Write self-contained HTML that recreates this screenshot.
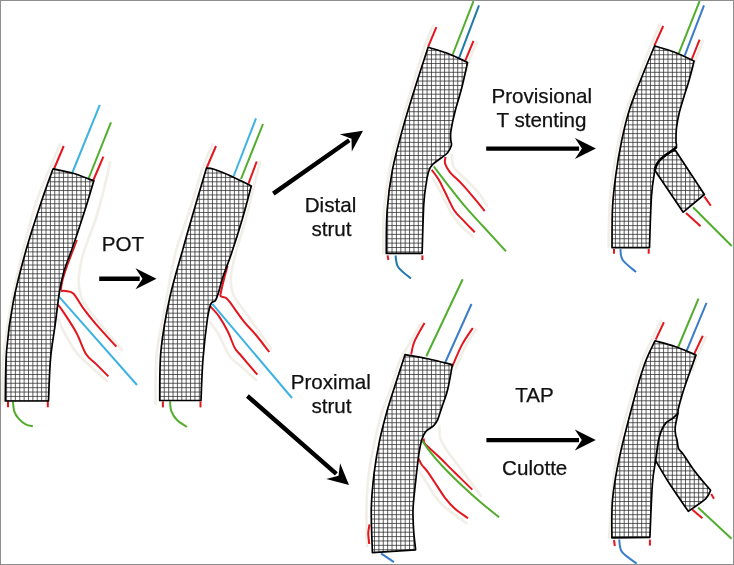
<!DOCTYPE html>
<html><head><meta charset="utf-8"><style>
html,body{margin:0;padding:0;background:#fff;}
svg{display:block;}
text{font-family:"Liberation Sans",sans-serif;fill:#111;stroke:#111;stroke-width:0.25px;}
svg{will-change:transform;}
</style></head><body>
<svg width="734" height="565" viewBox="0 0 734 565">
<defs>
<path id="grid" d="M-300.00,-300V900M-295.62,-300V900M-291.24,-300V900M-286.86,-300V900M-282.48,-300V900M-278.10,-300V900M-273.72,-300V900M-269.34,-300V900M-264.96,-300V900M-260.58,-300V900M-256.20,-300V900M-251.82,-300V900M-247.44,-300V900M-243.06,-300V900M-238.68,-300V900M-234.30,-300V900M-229.92,-300V900M-225.54,-300V900M-221.16,-300V900M-216.78,-300V900M-212.40,-300V900M-208.02,-300V900M-203.64,-300V900M-199.26,-300V900M-194.88,-300V900M-190.50,-300V900M-186.12,-300V900M-181.74,-300V900M-177.36,-300V900M-172.98,-300V900M-168.60,-300V900M-164.22,-300V900M-159.84,-300V900M-155.46,-300V900M-151.08,-300V900M-146.70,-300V900M-142.32,-300V900M-137.94,-300V900M-133.56,-300V900M-129.18,-300V900M-124.80,-300V900M-120.42,-300V900M-116.04,-300V900M-111.66,-300V900M-107.28,-300V900M-102.90,-300V900M-98.52,-300V900M-94.14,-300V900M-89.76,-300V900M-85.38,-300V900M-81.00,-300V900M-76.62,-300V900M-72.24,-300V900M-67.86,-300V900M-63.48,-300V900M-59.10,-300V900M-54.72,-300V900M-50.34,-300V900M-45.96,-300V900M-41.58,-300V900M-37.20,-300V900M-32.82,-300V900M-28.44,-300V900M-24.06,-300V900M-19.68,-300V900M-15.30,-300V900M-10.92,-300V900M-6.54,-300V900M-2.16,-300V900M2.22,-300V900M6.60,-300V900M10.98,-300V900M15.36,-300V900M19.74,-300V900M24.12,-300V900M28.50,-300V900M32.88,-300V900M37.26,-300V900M41.64,-300V900M46.02,-300V900M50.40,-300V900M54.78,-300V900M59.16,-300V900M63.54,-300V900M67.92,-300V900M72.30,-300V900M76.68,-300V900M81.06,-300V900M85.44,-300V900M89.82,-300V900M94.20,-300V900M98.58,-300V900M102.96,-300V900M107.34,-300V900M111.72,-300V900M116.10,-300V900M120.48,-300V900M124.86,-300V900M129.24,-300V900M133.62,-300V900M138.00,-300V900M142.38,-300V900M146.76,-300V900M151.14,-300V900M155.52,-300V900M159.90,-300V900M164.28,-300V900M168.66,-300V900M173.04,-300V900M177.42,-300V900M181.80,-300V900M186.18,-300V900M190.56,-300V900M194.94,-300V900M199.32,-300V900M203.70,-300V900M208.08,-300V900M212.46,-300V900M216.84,-300V900M221.22,-300V900M225.60,-300V900M229.98,-300V900M234.36,-300V900M238.74,-300V900M243.12,-300V900M247.50,-300V900M251.88,-300V900M256.26,-300V900M260.64,-300V900M265.02,-300V900M269.40,-300V900M273.78,-300V900M278.16,-300V900M282.54,-300V900M286.92,-300V900M291.30,-300V900M295.68,-300V900M300.06,-300V900M304.44,-300V900M308.82,-300V900M313.20,-300V900M317.58,-300V900M321.96,-300V900M326.34,-300V900M330.72,-300V900M335.10,-300V900M339.48,-300V900M343.86,-300V900M348.24,-300V900M352.62,-300V900M357.00,-300V900M361.38,-300V900M365.76,-300V900M370.14,-300V900M374.52,-300V900M378.90,-300V900M383.28,-300V900M387.66,-300V900M392.04,-300V900M396.42,-300V900M400.80,-300V900M405.18,-300V900M409.56,-300V900M413.94,-300V900M418.32,-300V900M422.70,-300V900M427.08,-300V900M431.46,-300V900M435.84,-300V900M440.22,-300V900M444.60,-300V900M448.98,-300V900M453.36,-300V900M457.74,-300V900M462.12,-300V900M466.50,-300V900M470.88,-300V900M475.26,-300V900M479.64,-300V900M484.02,-300V900M488.40,-300V900M492.78,-300V900M497.16,-300V900M501.54,-300V900M505.92,-300V900M510.30,-300V900M514.68,-300V900M519.06,-300V900M523.44,-300V900M527.82,-300V900M532.20,-300V900M536.58,-300V900M540.96,-300V900M545.34,-300V900M549.72,-300V900M554.10,-300V900M558.48,-300V900M562.86,-300V900M567.24,-300V900M571.62,-300V900M576.00,-300V900M580.38,-300V900M584.76,-300V900M589.14,-300V900M593.52,-300V900M597.90,-300V900M602.28,-300V900M606.66,-300V900M611.04,-300V900M615.42,-300V900M619.80,-300V900M624.18,-300V900M628.56,-300V900M632.94,-300V900M637.32,-300V900M641.70,-300V900M646.08,-300V900M650.46,-300V900M654.84,-300V900M659.22,-300V900M663.60,-300V900M667.98,-300V900M672.36,-300V900M676.74,-300V900M681.12,-300V900M685.50,-300V900M689.88,-300V900M694.26,-300V900M698.64,-300V900M703.02,-300V900M707.40,-300V900M711.78,-300V900M716.16,-300V900M720.54,-300V900M724.92,-300V900M729.30,-300V900M733.68,-300V900M738.06,-300V900M742.44,-300V900M746.82,-300V900M751.20,-300V900M755.58,-300V900M759.96,-300V900M764.34,-300V900M768.72,-300V900M773.10,-300V900M777.48,-300V900M781.86,-300V900M786.24,-300V900M790.62,-300V900M795.00,-300V900M799.38,-300V900M803.76,-300V900M808.14,-300V900M812.52,-300V900M816.90,-300V900M821.28,-300V900M825.66,-300V900M830.04,-300V900M834.42,-300V900M838.80,-300V900M843.18,-300V900M847.56,-300V900M851.94,-300V900M856.32,-300V900M860.70,-300V900M865.08,-300V900M869.46,-300V900M873.84,-300V900M878.22,-300V900M882.60,-300V900M886.98,-300V900M891.36,-300V900M895.74,-300V900M900.12,-300V900M904.50,-300V900M908.88,-300V900M913.26,-300V900M917.64,-300V900M922.02,-300V900M926.40,-300V900M930.78,-300V900M935.16,-300V900M939.54,-300V900M943.92,-300V900M948.30,-300V900M952.68,-300V900M957.06,-300V900M961.44,-300V900M965.82,-300V900M970.20,-300V900M974.58,-300V900M978.96,-300V900M983.34,-300V900M987.72,-300V900M992.10,-300V900M996.48,-300V900M1000.86,-300V900M1005.24,-300V900M1009.62,-300V900M1014.00,-300V900M1018.38,-300V900M1022.76,-300V900M1027.14,-300V900M1031.52,-300V900M1035.90,-300V900M1040.28,-300V900M1044.66,-300V900M1049.04,-300V900M1053.42,-300V900M1057.80,-300V900M1062.18,-300V900M1066.56,-300V900M1070.94,-300V900M1075.32,-300V900M1079.70,-300V900M1084.08,-300V900M1088.46,-300V900M1092.84,-300V900M1097.22,-300V900M-300,-300.00H1100M-300,-295.62H1100M-300,-291.24H1100M-300,-286.86H1100M-300,-282.48H1100M-300,-278.10H1100M-300,-273.72H1100M-300,-269.34H1100M-300,-264.96H1100M-300,-260.58H1100M-300,-256.20H1100M-300,-251.82H1100M-300,-247.44H1100M-300,-243.06H1100M-300,-238.68H1100M-300,-234.30H1100M-300,-229.92H1100M-300,-225.54H1100M-300,-221.16H1100M-300,-216.78H1100M-300,-212.40H1100M-300,-208.02H1100M-300,-203.64H1100M-300,-199.26H1100M-300,-194.88H1100M-300,-190.50H1100M-300,-186.12H1100M-300,-181.74H1100M-300,-177.36H1100M-300,-172.98H1100M-300,-168.60H1100M-300,-164.22H1100M-300,-159.84H1100M-300,-155.46H1100M-300,-151.08H1100M-300,-146.70H1100M-300,-142.32H1100M-300,-137.94H1100M-300,-133.56H1100M-300,-129.18H1100M-300,-124.80H1100M-300,-120.42H1100M-300,-116.04H1100M-300,-111.66H1100M-300,-107.28H1100M-300,-102.90H1100M-300,-98.52H1100M-300,-94.14H1100M-300,-89.76H1100M-300,-85.38H1100M-300,-81.00H1100M-300,-76.62H1100M-300,-72.24H1100M-300,-67.86H1100M-300,-63.48H1100M-300,-59.10H1100M-300,-54.72H1100M-300,-50.34H1100M-300,-45.96H1100M-300,-41.58H1100M-300,-37.20H1100M-300,-32.82H1100M-300,-28.44H1100M-300,-24.06H1100M-300,-19.68H1100M-300,-15.30H1100M-300,-10.92H1100M-300,-6.54H1100M-300,-2.16H1100M-300,2.22H1100M-300,6.60H1100M-300,10.98H1100M-300,15.36H1100M-300,19.74H1100M-300,24.12H1100M-300,28.50H1100M-300,32.88H1100M-300,37.26H1100M-300,41.64H1100M-300,46.02H1100M-300,50.40H1100M-300,54.78H1100M-300,59.16H1100M-300,63.54H1100M-300,67.92H1100M-300,72.30H1100M-300,76.68H1100M-300,81.06H1100M-300,85.44H1100M-300,89.82H1100M-300,94.20H1100M-300,98.58H1100M-300,102.96H1100M-300,107.34H1100M-300,111.72H1100M-300,116.10H1100M-300,120.48H1100M-300,124.86H1100M-300,129.24H1100M-300,133.62H1100M-300,138.00H1100M-300,142.38H1100M-300,146.76H1100M-300,151.14H1100M-300,155.52H1100M-300,159.90H1100M-300,164.28H1100M-300,168.66H1100M-300,173.04H1100M-300,177.42H1100M-300,181.80H1100M-300,186.18H1100M-300,190.56H1100M-300,194.94H1100M-300,199.32H1100M-300,203.70H1100M-300,208.08H1100M-300,212.46H1100M-300,216.84H1100M-300,221.22H1100M-300,225.60H1100M-300,229.98H1100M-300,234.36H1100M-300,238.74H1100M-300,243.12H1100M-300,247.50H1100M-300,251.88H1100M-300,256.26H1100M-300,260.64H1100M-300,265.02H1100M-300,269.40H1100M-300,273.78H1100M-300,278.16H1100M-300,282.54H1100M-300,286.92H1100M-300,291.30H1100M-300,295.68H1100M-300,300.06H1100M-300,304.44H1100M-300,308.82H1100M-300,313.20H1100M-300,317.58H1100M-300,321.96H1100M-300,326.34H1100M-300,330.72H1100M-300,335.10H1100M-300,339.48H1100M-300,343.86H1100M-300,348.24H1100M-300,352.62H1100M-300,357.00H1100M-300,361.38H1100M-300,365.76H1100M-300,370.14H1100M-300,374.52H1100M-300,378.90H1100M-300,383.28H1100M-300,387.66H1100M-300,392.04H1100M-300,396.42H1100M-300,400.80H1100M-300,405.18H1100M-300,409.56H1100M-300,413.94H1100M-300,418.32H1100M-300,422.70H1100M-300,427.08H1100M-300,431.46H1100M-300,435.84H1100M-300,440.22H1100M-300,444.60H1100M-300,448.98H1100M-300,453.36H1100M-300,457.74H1100M-300,462.12H1100M-300,466.50H1100M-300,470.88H1100M-300,475.26H1100M-300,479.64H1100M-300,484.02H1100M-300,488.40H1100M-300,492.78H1100M-300,497.16H1100M-300,501.54H1100M-300,505.92H1100M-300,510.30H1100M-300,514.68H1100M-300,519.06H1100M-300,523.44H1100M-300,527.82H1100M-300,532.20H1100M-300,536.58H1100M-300,540.96H1100M-300,545.34H1100M-300,549.72H1100M-300,554.10H1100M-300,558.48H1100M-300,562.86H1100M-300,567.24H1100M-300,571.62H1100M-300,576.00H1100M-300,580.38H1100M-300,584.76H1100M-300,589.14H1100M-300,593.52H1100M-300,597.90H1100M-300,602.28H1100M-300,606.66H1100M-300,611.04H1100M-300,615.42H1100M-300,619.80H1100M-300,624.18H1100M-300,628.56H1100M-300,632.94H1100M-300,637.32H1100M-300,641.70H1100M-300,646.08H1100M-300,650.46H1100M-300,654.84H1100M-300,659.22H1100M-300,663.60H1100M-300,667.98H1100M-300,672.36H1100M-300,676.74H1100M-300,681.12H1100M-300,685.50H1100M-300,689.88H1100M-300,694.26H1100M-300,698.64H1100M-300,703.02H1100M-300,707.40H1100M-300,711.78H1100M-300,716.16H1100M-300,720.54H1100M-300,724.92H1100M-300,729.30H1100M-300,733.68H1100M-300,738.06H1100M-300,742.44H1100M-300,746.82H1100M-300,751.20H1100M-300,755.58H1100M-300,759.96H1100M-300,764.34H1100M-300,768.72H1100M-300,773.10H1100M-300,777.48H1100M-300,781.86H1100M-300,786.24H1100M-300,790.62H1100M-300,795.00H1100M-300,799.38H1100M-300,803.76H1100M-300,808.14H1100M-300,812.52H1100M-300,816.90H1100M-300,821.28H1100M-300,825.66H1100M-300,830.04H1100M-300,834.42H1100M-300,838.80H1100M-300,843.18H1100M-300,847.56H1100M-300,851.94H1100M-300,856.32H1100M-300,860.70H1100M-300,865.08H1100M-300,869.46H1100M-300,873.84H1100M-300,878.22H1100M-300,882.60H1100M-300,886.98H1100M-300,891.36H1100M-300,895.74H1100" stroke="#2a2a2a" stroke-width="0.75" fill="none"/>
</defs>
<rect x="0" y="0" width="734" height="565" fill="#fff"/>
<path d="M60.0,144.4 C58.4,148.2 54.0,158.6 50.3,167.4 C46.6,176.2 41.7,186.4 38.0,197.0 C34.3,207.6 31.1,219.7 28.0,231.0 C24.9,242.3 22.5,251.8 19.5,265.0 C16.5,278.2 12.7,294.8 10.0,310.0 C7.3,325.2 4.8,340.3 3.5,356.0 C2.2,371.7 2.7,396.0 2.5,404.0" stroke="#f1efe8" stroke-width="2.7" fill="none" stroke-linecap="round"/>
<path d="M110.0,162.0 C109.2,165.8 107.2,176.2 105.0,185.0 C102.8,193.8 99.8,205.8 97.0,215.0 C94.2,224.2 90.5,232.8 88.0,240.0 C85.5,247.2 83.5,251.7 82.0,258.0 C80.5,264.3 79.2,272.7 78.8,278.0 C78.4,283.3 79.0,286.5 79.5,290.0 C80.0,293.5 80.4,295.7 82.0,299.0 C83.6,302.3 85.0,304.7 89.0,310.0 C93.0,315.3 100.5,324.3 106.0,331.0 C111.5,337.7 119.3,346.8 122.0,350.0" stroke="#f1efe8" stroke-width="2.7" fill="none" stroke-linecap="round"/>
<path d="M56.0,314.0 C57.2,316.7 59.7,323.7 63.0,330.0 C66.3,336.3 71.8,346.3 76.0,352.0 C80.2,357.7 82.8,359.2 88.0,364.0 C93.2,368.8 103.8,378.2 107.0,381.0" stroke="#f1efe8" stroke-width="2.7" fill="none" stroke-linecap="round"/>
<path d="M54.0,169.0 L63.7,146.0" stroke="#e3161d" stroke-width="2.0" fill="none" stroke-linecap="butt" stroke-linejoin="round"/>
<path d="M72.0,173.5 L99.8,104.8" stroke="#3cb3e4" stroke-width="2.0" fill="none" stroke-linecap="butt" stroke-linejoin="round"/>
<path d="M88.0,180.0 L111.0,122.3" stroke="#52ad2d" stroke-width="2.0" fill="none" stroke-linecap="butt" stroke-linejoin="round"/>
<path d="M93.0,181.0 L103.4,156.6" stroke="#e3161d" stroke-width="2.0" fill="none" stroke-linecap="butt" stroke-linejoin="round"/>
<path d="M77.0,240.0 C76.5,241.3 75.8,243.3 74.0,248.0 C72.2,252.7 68.4,262.5 66.5,268.0 C64.6,273.5 63.4,277.3 62.5,281.0 C61.6,284.7 61.2,288.5 61.0,290.0" stroke="#e3161d" stroke-width="1.6" fill="none" stroke-linecap="butt" stroke-linejoin="round"/>
<path d="M61.0,291.0 C61.7,291.0 63.4,290.6 65.4,291.0 C67.5,291.4 70.4,290.7 73.3,293.5 C76.2,296.3 79.3,302.8 83.0,307.8 C86.7,312.9 90.1,317.3 95.7,323.8 C101.3,330.3 113.0,342.9 116.4,346.7" stroke="#e3161d" stroke-width="2.0" fill="none" stroke-linecap="butt" stroke-linejoin="round"/>
<path d="M59.0,296.7 L137.0,385.0" stroke="#3cb3e4" stroke-width="2.0" fill="none" stroke-linecap="butt" stroke-linejoin="round"/>
<path d="M58.0,304.6 C59.0,305.9 60.7,307.9 63.8,312.6 C66.9,317.3 72.8,326.1 76.5,333.0 C80.2,339.9 82.8,348.9 86.0,354.0 C89.2,359.1 92.0,359.9 95.7,363.6 C99.4,367.3 106.3,374.3 108.4,376.4" stroke="#e3161d" stroke-width="2.0" fill="none" stroke-linecap="butt" stroke-linejoin="round"/>
<path d="M8.0,401.0 L8.0,407.3" stroke="#e3161d" stroke-width="2.0" fill="none" stroke-linecap="butt" stroke-linejoin="round"/>
<path d="M47.8,401.0 L47.8,407.3" stroke="#e3161d" stroke-width="2.0" fill="none" stroke-linecap="butt" stroke-linejoin="round"/>
<path d="M12.9,401.4 C13.1,403.1 13.4,408.5 14.3,411.4 C15.2,414.3 16.7,416.5 18.6,418.6 C20.5,420.8 23.3,423.0 25.7,424.3 C28.1,425.6 31.7,426.0 32.9,426.3" stroke="#52ad2d" stroke-width="2.0" fill="none" stroke-linecap="butt" stroke-linejoin="round"/>
<clipPath id="c1"><path d="M53.1,168.8 C56.4,169.6 66.2,171.3 73.0,173.3 C79.8,175.3 90.3,179.6 93.8,180.8 C92.2,186.2 87.5,202.1 84.0,213.0 C80.5,223.9 76.3,236.7 73.0,246.3 C69.7,255.9 66.4,263.2 64.2,270.6 C62.0,278.0 61.2,281.6 59.7,290.5 C58.2,299.4 56.8,312.3 55.3,323.7 C53.8,335.1 51.6,346.2 50.5,359.1 C49.4,372.0 48.8,394.0 48.5,401.0 L5.3,401.0 C5.5,392.7 5.3,366.9 6.6,350.3 C7.9,333.7 10.0,318.6 13.3,301.6 C16.6,284.6 21.7,265.5 26.5,248.5 C31.3,231.5 37.6,213.1 42.0,199.8 C46.4,186.5 51.2,174.0 53.1,168.8 Z"/></clipPath>
<g clip-path="url(#c1)"><path d="M53.1,168.8 C56.4,169.6 66.2,171.3 73.0,173.3 C79.8,175.3 90.3,179.6 93.8,180.8 C92.2,186.2 87.5,202.1 84.0,213.0 C80.5,223.9 76.3,236.7 73.0,246.3 C69.7,255.9 66.4,263.2 64.2,270.6 C62.0,278.0 61.2,281.6 59.7,290.5 C58.2,299.4 56.8,312.3 55.3,323.7 C53.8,335.1 51.6,346.2 50.5,359.1 C49.4,372.0 48.8,394.0 48.5,401.0 L5.3,401.0 C5.5,392.7 5.3,366.9 6.6,350.3 C7.9,333.7 10.0,318.6 13.3,301.6 C16.6,284.6 21.7,265.5 26.5,248.5 C31.3,231.5 37.6,213.1 42.0,199.8 C46.4,186.5 51.2,174.0 53.1,168.8 Z" fill="#fff"/><g><use href="#grid"/></g></g>
<path d="M53.1,168.8 C56.4,169.6 66.2,171.3 73.0,173.3 C79.8,175.3 90.3,179.6 93.8,180.8 C92.2,186.2 87.5,202.1 84.0,213.0 C80.5,223.9 76.3,236.7 73.0,246.3 C69.7,255.9 66.4,263.2 64.2,270.6 C62.0,278.0 61.2,281.6 59.7,290.5 C58.2,299.4 56.8,312.3 55.3,323.7 C53.8,335.1 51.6,346.2 50.5,359.1 C49.4,372.0 48.8,394.0 48.5,401.0 L5.3,401.0 C5.5,392.7 5.3,366.9 6.6,350.3 C7.9,333.7 10.0,318.6 13.3,301.6 C16.6,284.6 21.7,265.5 26.5,248.5 C31.3,231.5 37.6,213.1 42.0,199.8 C46.4,186.5 51.2,174.0 53.1,168.8 Z" fill="none" stroke="#000" stroke-width="1.7" stroke-linejoin="round"/>
<path d="M99.2,276.6 L139.7,276.6 L139.7,281.0 L99.2,281.0Z M156.5,278.8 L135.5,268.3 L142.5,278.8 L135.5,289.3Z" fill="#000"/>
<text x="123.0" y="251.2" font-size="20.6" text-anchor="middle">POT</text>
<path d="M212.5,144.5 C210.9,148.2 206.2,157.8 203.0,167.0 C199.8,176.2 196.3,189.5 193.0,200.0 C189.7,210.5 186.0,220.8 183.0,230.0 C180.0,239.2 178.3,240.5 175.0,255.0 C171.7,269.5 166.1,300.2 163.0,317.0 C159.9,333.8 157.8,341.5 156.5,356.0 C155.2,370.5 155.7,396.0 155.5,404.0" stroke="#f1efe8" stroke-width="2.7" fill="none" stroke-linecap="round"/>
<path d="M260.0,162.0 C258.8,166.7 255.5,180.0 253.0,190.0 C250.5,200.0 247.8,211.7 245.0,222.0 C242.2,232.3 238.3,243.2 236.0,252.0 C233.7,260.8 231.8,269.0 231.0,275.0 C230.2,281.0 230.8,284.2 231.5,288.0 C232.2,291.8 232.2,293.3 235.0,298.0 C237.8,302.7 242.0,307.5 248.0,316.0 C254.0,324.5 267.2,343.5 271.0,349.0" stroke="#f1efe8" stroke-width="2.7" fill="none" stroke-linecap="round"/>
<path d="M209.6,321.6 C211.2,323.8 215.7,329.3 219.0,335.0 C222.3,340.7 225.8,350.7 229.5,356.0 C233.2,361.3 237.0,362.7 241.4,366.7 C245.8,370.7 253.6,377.8 256.0,380.0" stroke="#f1efe8" stroke-width="2.7" fill="none" stroke-linecap="round"/>
<path d="M206.6,168.0 L216.0,146.0" stroke="#e3161d" stroke-width="2.0" fill="none" stroke-linecap="butt" stroke-linejoin="round"/>
<path d="M233.5,176.5 L256.0,118.4" stroke="#3cb3e4" stroke-width="2.0" fill="none" stroke-linecap="butt" stroke-linejoin="round"/>
<path d="M241.0,179.0 L263.0,124.0" stroke="#52ad2d" stroke-width="2.0" fill="none" stroke-linecap="butt" stroke-linejoin="round"/>
<path d="M248.5,183.6 L256.7,161.5" stroke="#e3161d" stroke-width="2.0" fill="none" stroke-linecap="butt" stroke-linejoin="round"/>
<path d="M227.5,266.0 C226.8,268.5 224.7,276.3 223.5,281.0 C222.3,285.7 221.0,291.8 220.5,294.0" stroke="#e3161d" stroke-width="2.0" fill="none" stroke-linecap="butt" stroke-linejoin="round"/>
<path d="M220.2,294.0 C220.3,294.4 220.1,295.8 221.0,296.4 C221.9,297.0 224.1,296.8 225.5,297.7 C226.9,298.6 226.4,297.7 229.5,301.7 C232.6,305.7 239.6,316.1 244.0,321.6 C248.4,327.2 251.8,329.9 256.0,335.0 C260.2,340.1 267.1,349.2 269.3,352.0" stroke="#e3161d" stroke-width="2.0" fill="none" stroke-linecap="butt" stroke-linejoin="round"/>
<path d="M212.3,303.8 L292.0,398.0" stroke="#3cb3e4" stroke-width="2.0" fill="none" stroke-linecap="butt" stroke-linejoin="round"/>
<path d="M209.6,305.7 C211.2,307.5 215.9,311.9 219.0,316.3 C222.1,320.7 225.6,327.0 228.2,332.3 C230.8,337.6 232.6,344.1 234.8,348.0 C237.0,351.9 237.7,351.6 241.4,356.0 C245.2,360.4 254.7,371.6 257.3,374.7" stroke="#e3161d" stroke-width="2.0" fill="none" stroke-linecap="butt" stroke-linejoin="round"/>
<path d="M162.9,401.4 L162.9,407.4" stroke="#e3161d" stroke-width="2.0" fill="none" stroke-linecap="butt" stroke-linejoin="round"/>
<path d="M200.5,401.4 L200.5,407.4" stroke="#e3161d" stroke-width="2.0" fill="none" stroke-linecap="butt" stroke-linejoin="round"/>
<path d="M170.0,401.4 C170.2,403.1 170.2,408.3 171.4,411.4 C172.6,414.5 174.4,417.4 177.0,420.0 C179.6,422.6 185.3,425.8 187.0,427.0" stroke="#52ad2d" stroke-width="2.0" fill="none" stroke-linecap="butt" stroke-linejoin="round"/>
<clipPath id="c2"><path d="M206.5,168.0 C207.8,168.2 209.6,167.8 214.0,169.3 C218.4,170.8 226.8,174.2 233.0,177.0 C239.2,179.8 248.2,184.5 251.3,186.0 C249.9,191.2 246.1,206.3 242.8,217.4 C239.5,228.5 235.0,242.9 231.7,252.8 C228.4,262.7 225.1,270.4 222.9,277.0 C220.7,283.6 219.8,288.6 218.5,292.5 C217.2,296.4 216.7,298.6 215.4,300.5 C214.2,302.4 212.3,300.5 211.0,303.6 C209.7,306.7 208.7,309.8 207.4,319.0 C206.1,328.2 204.1,345.2 203.0,358.8 C201.9,372.4 201.3,393.6 201.0,400.5 L159.7,400.5 C159.9,391.7 159.3,367.2 161.0,350.0 C162.7,332.8 166.2,313.9 169.9,297.0 C173.6,280.1 178.7,264.2 183.1,248.4 C187.5,232.6 192.5,215.4 196.4,202.0 C200.3,188.6 204.8,173.7 206.5,168.0 Z"/></clipPath>
<g clip-path="url(#c2)"><path d="M206.5,168.0 C207.8,168.2 209.6,167.8 214.0,169.3 C218.4,170.8 226.8,174.2 233.0,177.0 C239.2,179.8 248.2,184.5 251.3,186.0 C249.9,191.2 246.1,206.3 242.8,217.4 C239.5,228.5 235.0,242.9 231.7,252.8 C228.4,262.7 225.1,270.4 222.9,277.0 C220.7,283.6 219.8,288.6 218.5,292.5 C217.2,296.4 216.7,298.6 215.4,300.5 C214.2,302.4 212.3,300.5 211.0,303.6 C209.7,306.7 208.7,309.8 207.4,319.0 C206.1,328.2 204.1,345.2 203.0,358.8 C201.9,372.4 201.3,393.6 201.0,400.5 L159.7,400.5 C159.9,391.7 159.3,367.2 161.0,350.0 C162.7,332.8 166.2,313.9 169.9,297.0 C173.6,280.1 178.7,264.2 183.1,248.4 C187.5,232.6 192.5,215.4 196.4,202.0 C200.3,188.6 204.8,173.7 206.5,168.0 Z" fill="#fff"/><g><use href="#grid"/></g></g>
<path d="M206.5,168.0 C207.8,168.2 209.6,167.8 214.0,169.3 C218.4,170.8 226.8,174.2 233.0,177.0 C239.2,179.8 248.2,184.5 251.3,186.0 C249.9,191.2 246.1,206.3 242.8,217.4 C239.5,228.5 235.0,242.9 231.7,252.8 C228.4,262.7 225.1,270.4 222.9,277.0 C220.7,283.6 219.8,288.6 218.5,292.5 C217.2,296.4 216.7,298.6 215.4,300.5 C214.2,302.4 212.3,300.5 211.0,303.6 C209.7,306.7 208.7,309.8 207.4,319.0 C206.1,328.2 204.1,345.2 203.0,358.8 C201.9,372.4 201.3,393.6 201.0,400.5 L159.7,400.5 C159.9,391.7 159.3,367.2 161.0,350.0 C162.7,332.8 166.2,313.9 169.9,297.0 C173.6,280.1 178.7,264.2 183.1,248.4 C187.5,232.6 192.5,215.4 196.4,202.0 C200.3,188.6 204.8,173.7 206.5,168.0 Z" fill="none" stroke="#000" stroke-width="1.7" stroke-linejoin="round"/>
<path d="M272.0,191.8 L348.0,138.5 L350.5,142.1 L274.6,195.4Z M363.0,130.7 L339.8,134.2 L351.5,138.7 L351.8,151.4Z" fill="#000"/>
<text x="330.5" y="212.2" font-size="20.6" text-anchor="middle">Distal</text>
<text x="331.5" y="236.0" font-size="20.6" text-anchor="middle">strut</text>
<path d="M248.8,394.3 L337.8,472.3 L334.9,475.6 L246.0,397.7Z M349.0,485.0 L340.1,463.3 L338.5,475.8 L326.3,479.1Z" fill="#000"/>
<text x="330.8" y="388.5" font-size="20.6" text-anchor="middle">Proximal</text>
<text x="331.5" y="412.8" font-size="20.6" text-anchor="middle">strut</text>
<path d="M433.2,25.8 C431.8,29.0 428.6,34.7 425.0,45.2 C421.4,55.7 415.8,74.8 411.5,88.8 C407.2,102.8 403.2,115.9 399.5,129.4 C395.8,142.9 392.0,156.4 389.4,170.0 C386.8,183.6 385.0,196.9 384.0,210.7 C383.0,224.5 383.4,245.9 383.3,253.0" stroke="#f1efe8" stroke-width="2.7" fill="none" stroke-linecap="round"/>
<path d="M476.7,42.2 C475.6,44.8 471.8,53.0 470.0,58.0 C468.2,63.0 466.7,69.7 466.0,72.0" stroke="#f1efe8" stroke-width="2.7" fill="none" stroke-linecap="round"/>
<path d="M451.8,154.9 C452.2,157.0 451.5,163.4 454.0,167.6 C456.5,171.8 462.5,175.9 466.7,180.3 C470.9,184.7 476.0,189.8 479.4,194.0 C482.8,198.2 485.6,203.8 486.9,205.8" stroke="#f1efe8" stroke-width="2.7" fill="none" stroke-linecap="round"/>
<path d="M432.7,178.2 C433.9,180.3 437.4,185.7 440.2,191.0 C443.0,196.3 446.7,204.7 449.7,210.0 C452.7,215.3 454.3,218.4 458.2,222.8 C462.1,227.2 470.5,234.3 473.0,236.6" stroke="#f1efe8" stroke-width="2.7" fill="none" stroke-linecap="round"/>
<path d="M428.2,46.6 L436.4,27.2" stroke="#e3161d" stroke-width="2.0" fill="none" stroke-linecap="butt" stroke-linejoin="round"/>
<path d="M452.5,55.0 L473.5,1.2" stroke="#52ad2d" stroke-width="2.0" fill="none" stroke-linecap="butt" stroke-linejoin="round"/>
<path d="M459.0,58.2 L479.0,5.4" stroke="#1f7aa8" stroke-width="2.0" fill="none" stroke-linecap="butt" stroke-linejoin="round"/>
<path d="M465.3,60.7 L473.5,40.9" stroke="#e3161d" stroke-width="2.0" fill="none" stroke-linecap="butt" stroke-linejoin="round"/>
<path d="M445.5,157.0 C445.4,158.1 444.3,160.8 445.0,163.3 C445.7,165.8 446.8,168.2 449.7,171.8 C452.6,175.4 458.2,180.0 462.5,184.6 C466.8,189.2 471.5,195.0 475.2,199.4 C478.9,203.8 483.1,209.2 484.7,211.1" stroke="#e3161d" stroke-width="2.0" fill="none" stroke-linecap="butt" stroke-linejoin="round"/>
<path d="M433.8,166.5 C436.1,169.5 442.5,178.0 447.6,184.6 C452.7,191.2 458.6,198.7 464.6,205.8 C470.6,212.9 476.8,219.4 483.7,227.0 C490.6,234.6 502.3,247.3 506.0,251.4" stroke="#52ad2d" stroke-width="2.0" fill="none" stroke-linecap="butt" stroke-linejoin="round"/>
<path d="M431.7,169.7 C432.9,171.5 436.8,176.4 439.1,180.3 C441.4,184.2 443.0,188.1 445.5,193.0 C448.0,197.9 451.2,205.6 454.0,210.0 C456.8,214.4 459.0,215.9 462.5,219.6 C466.0,223.3 472.8,230.2 474.8,232.3" stroke="#e3161d" stroke-width="2.0" fill="none" stroke-linecap="butt" stroke-linejoin="round"/>
<path d="M387.6,255.4 L388.4,260.0" stroke="#e3161d" stroke-width="2.0" fill="none" stroke-linecap="butt" stroke-linejoin="round"/>
<path d="M422.4,255.4 L422.4,260.0" stroke="#e3161d" stroke-width="2.0" fill="none" stroke-linecap="butt" stroke-linejoin="round"/>
<path d="M395.5,255.4 C396.0,257.4 395.7,263.4 398.3,267.3 C400.9,271.2 408.9,276.7 411.0,278.6" stroke="#1f7aa8" stroke-width="2.0" fill="none" stroke-linecap="butt" stroke-linejoin="round"/>
<clipPath id="c3"><path d="M428.1,47.3 C431.4,48.3 441.4,51.0 448.0,53.5 C454.6,56.0 464.3,60.9 467.6,62.4 C466.6,66.8 463.7,80.3 461.5,88.8 C459.3,97.3 456.4,106.0 454.6,113.2 C452.8,120.4 451.4,127.5 450.8,132.0 C450.2,136.5 450.7,137.8 450.8,140.0 C450.9,142.2 451.9,143.2 451.4,145.3 C450.9,147.4 449.3,150.6 447.6,152.7 C445.9,154.8 443.7,156.1 441.2,158.0 C438.7,159.9 434.8,162.3 432.7,164.4 C430.6,166.5 429.9,167.8 428.9,170.8 C427.8,173.8 427.2,177.0 426.4,182.5 C425.5,188.0 424.5,191.9 423.8,203.7 C423.1,215.5 422.4,245.1 422.1,253.4 L386.3,253.4 C386.4,246.3 386.1,224.6 387.1,210.7 C388.1,196.8 389.8,183.6 392.4,170.0 C395.0,156.4 398.8,142.9 402.5,129.4 C406.2,115.9 410.4,102.5 414.7,88.8 C419.0,75.1 425.9,54.2 428.1,47.3 Z"/></clipPath>
<g clip-path="url(#c3)"><path d="M428.1,47.3 C431.4,48.3 441.4,51.0 448.0,53.5 C454.6,56.0 464.3,60.9 467.6,62.4 C466.6,66.8 463.7,80.3 461.5,88.8 C459.3,97.3 456.4,106.0 454.6,113.2 C452.8,120.4 451.4,127.5 450.8,132.0 C450.2,136.5 450.7,137.8 450.8,140.0 C450.9,142.2 451.9,143.2 451.4,145.3 C450.9,147.4 449.3,150.6 447.6,152.7 C445.9,154.8 443.7,156.1 441.2,158.0 C438.7,159.9 434.8,162.3 432.7,164.4 C430.6,166.5 429.9,167.8 428.9,170.8 C427.8,173.8 427.2,177.0 426.4,182.5 C425.5,188.0 424.5,191.9 423.8,203.7 C423.1,215.5 422.4,245.1 422.1,253.4 L386.3,253.4 C386.4,246.3 386.1,224.6 387.1,210.7 C388.1,196.8 389.8,183.6 392.4,170.0 C395.0,156.4 398.8,142.9 402.5,129.4 C406.2,115.9 410.4,102.5 414.7,88.8 C419.0,75.1 425.9,54.2 428.1,47.3 Z" fill="#fff"/><g><use href="#grid"/></g></g>
<path d="M428.1,47.3 C431.4,48.3 441.4,51.0 448.0,53.5 C454.6,56.0 464.3,60.9 467.6,62.4 C466.6,66.8 463.7,80.3 461.5,88.8 C459.3,97.3 456.4,106.0 454.6,113.2 C452.8,120.4 451.4,127.5 450.8,132.0 C450.2,136.5 450.7,137.8 450.8,140.0 C450.9,142.2 451.9,143.2 451.4,145.3 C450.9,147.4 449.3,150.6 447.6,152.7 C445.9,154.8 443.7,156.1 441.2,158.0 C438.7,159.9 434.8,162.3 432.7,164.4 C430.6,166.5 429.9,167.8 428.9,170.8 C427.8,173.8 427.2,177.0 426.4,182.5 C425.5,188.0 424.5,191.9 423.8,203.7 C423.1,215.5 422.4,245.1 422.1,253.4 L386.3,253.4 C386.4,246.3 386.1,224.6 387.1,210.7 C388.1,196.8 389.8,183.6 392.4,170.0 C395.0,156.4 398.8,142.9 402.5,129.4 C406.2,115.9 410.4,102.5 414.7,88.8 C419.0,75.1 425.9,54.2 428.1,47.3 Z" fill="none" stroke="#000" stroke-width="1.7" stroke-linejoin="round"/>
<path d="M486.2,146.4 L579.1,146.4 L579.1,150.8 L486.2,150.8Z M595.9,148.6 L574.9,138.1 L581.9,148.6 L574.9,159.1Z" fill="#000"/>
<text x="541.8" y="103.4" font-size="20.6" text-anchor="middle">Provisional</text>
<text x="541.5" y="127.2" font-size="20.6" text-anchor="middle">T stenting</text>
<path d="M660.0,24.6 C658.5,27.8 655.0,34.8 651.3,43.9 C647.6,53.0 642.2,68.0 638.0,79.0 C633.8,90.0 629.5,99.8 626.3,110.2 C623.0,120.6 620.8,130.4 618.5,141.5 C616.2,152.6 614.1,165.5 612.6,176.6 C611.1,187.7 610.1,196.1 609.5,207.8 C608.9,219.5 608.8,240.3 608.7,246.8" stroke="#f1efe8" stroke-width="2.7" fill="none" stroke-linecap="round"/>
<path d="M702.8,41.0 C701.5,44.3 697.0,55.3 695.0,61.0 C693.0,66.7 691.7,72.7 691.0,75.0" stroke="#f1efe8" stroke-width="2.7" fill="none" stroke-linecap="round"/>
<path d="M654.5,45.3 L663.2,26.0" stroke="#e3161d" stroke-width="2.0" fill="none" stroke-linecap="butt" stroke-linejoin="round"/>
<path d="M678.8,53.3 L699.6,1.2" stroke="#52ad2d" stroke-width="2.0" fill="none" stroke-linecap="butt" stroke-linejoin="round"/>
<path d="M684.7,55.7 L704.0,5.4" stroke="#3a7cc9" stroke-width="2.0" fill="none" stroke-linecap="butt" stroke-linejoin="round"/>
<path d="M691.7,59.5 L699.6,39.6" stroke="#e3161d" stroke-width="2.0" fill="none" stroke-linecap="butt" stroke-linejoin="round"/>
<path d="M704.4,196.6 L710.8,205.8" stroke="#e3161d" stroke-width="2.0" fill="none" stroke-linecap="butt" stroke-linejoin="round"/>
<path d="M686.0,213.0 L700.6,226.2" stroke="#e3161d" stroke-width="2.0" fill="none" stroke-linecap="butt" stroke-linejoin="round"/>
<path d="M693.0,207.3 L731.7,246.0" stroke="#52ad2d" stroke-width="2.0" fill="none" stroke-linecap="butt" stroke-linejoin="round"/>
<path d="M614.0,249.0 L614.0,253.7" stroke="#e3161d" stroke-width="2.0" fill="none" stroke-linecap="butt" stroke-linejoin="round"/>
<path d="M648.7,249.0 L648.7,253.7" stroke="#e3161d" stroke-width="2.0" fill="none" stroke-linecap="butt" stroke-linejoin="round"/>
<path d="M620.4,249.0 C620.8,250.8 620.1,256.2 622.7,260.0 C625.3,263.8 633.8,270.0 636.0,272.0" stroke="#3a7cc9" stroke-width="2.0" fill="none" stroke-linecap="butt" stroke-linejoin="round"/>
<clipPath id="c4"><path d="M654.6,45.9 C657.8,46.9 667.4,49.5 674.0,52.0 C680.6,54.5 690.8,59.5 694.1,61.0 C693.2,64.4 690.6,75.0 688.8,81.2 C687.0,87.4 685.1,92.9 683.5,98.2 C681.9,103.5 680.4,108.0 679.2,113.0 C678.0,118.0 677.0,123.3 676.5,127.9 C676.0,132.5 676.0,137.8 676.0,140.6 C676.0,143.4 676.4,144.2 676.5,144.9 C676.4,145.3 676.9,146.4 676.0,147.5 C675.1,148.6 672.9,150.1 671.0,151.5 C669.1,152.9 666.4,154.5 664.5,156.0 C662.6,157.5 660.8,159.0 659.5,160.5 C658.2,162.0 657.3,163.4 656.5,165.0 C655.7,166.6 655.1,169.4 654.8,170.3 C654.2,174.6 652.4,183.1 651.5,196.0 C650.6,208.9 649.8,239.0 649.5,247.6 L612.0,247.6 C612.1,241.0 611.9,219.6 612.5,207.8 C613.1,196.0 614.1,187.7 615.6,176.6 C617.1,165.5 619.2,152.6 621.5,141.5 C623.8,130.4 626.0,120.6 629.3,110.2 C632.5,99.8 636.8,89.7 641.0,79.0 C645.2,68.3 652.3,51.4 654.6,45.9 Z"/></clipPath>
<g clip-path="url(#c4)"><path d="M654.6,45.9 C657.8,46.9 667.4,49.5 674.0,52.0 C680.6,54.5 690.8,59.5 694.1,61.0 C693.2,64.4 690.6,75.0 688.8,81.2 C687.0,87.4 685.1,92.9 683.5,98.2 C681.9,103.5 680.4,108.0 679.2,113.0 C678.0,118.0 677.0,123.3 676.5,127.9 C676.0,132.5 676.0,137.8 676.0,140.6 C676.0,143.4 676.4,144.2 676.5,144.9 C676.4,145.3 676.9,146.4 676.0,147.5 C675.1,148.6 672.9,150.1 671.0,151.5 C669.1,152.9 666.4,154.5 664.5,156.0 C662.6,157.5 660.8,159.0 659.5,160.5 C658.2,162.0 657.3,163.4 656.5,165.0 C655.7,166.6 655.1,169.4 654.8,170.3 C654.2,174.6 652.4,183.1 651.5,196.0 C650.6,208.9 649.8,239.0 649.5,247.6 L612.0,247.6 C612.1,241.0 611.9,219.6 612.5,207.8 C613.1,196.0 614.1,187.7 615.6,176.6 C617.1,165.5 619.2,152.6 621.5,141.5 C623.8,130.4 626.0,120.6 629.3,110.2 C632.5,99.8 636.8,89.7 641.0,79.0 C645.2,68.3 652.3,51.4 654.6,45.9 Z" fill="#fff"/><g><use href="#grid"/></g></g>
<path d="M654.6,45.9 C657.8,46.9 667.4,49.5 674.0,52.0 C680.6,54.5 690.8,59.5 694.1,61.0 C693.2,64.4 690.6,75.0 688.8,81.2 C687.0,87.4 685.1,92.9 683.5,98.2 C681.9,103.5 680.4,108.0 679.2,113.0 C678.0,118.0 677.0,123.3 676.5,127.9 C676.0,132.5 676.0,137.8 676.0,140.6 C676.0,143.4 676.4,144.2 676.5,144.9 C676.4,145.3 676.9,146.4 676.0,147.5 C675.1,148.6 672.9,150.1 671.0,151.5 C669.1,152.9 666.4,154.5 664.5,156.0 C662.6,157.5 660.8,159.0 659.5,160.5 C658.2,162.0 657.3,163.4 656.5,165.0 C655.7,166.6 655.1,169.4 654.8,170.3 C654.2,174.6 652.4,183.1 651.5,196.0 C650.6,208.9 649.8,239.0 649.5,247.6 L612.0,247.6 C612.1,241.0 611.9,219.6 612.5,207.8 C613.1,196.0 614.1,187.7 615.6,176.6 C617.1,165.5 619.2,152.6 621.5,141.5 C623.8,130.4 626.0,120.6 629.3,110.2 C632.5,99.8 636.8,89.7 641.0,79.0 C645.2,68.3 652.3,51.4 654.6,45.9 Z" fill="none" stroke="#000" stroke-width="1.7" stroke-linejoin="round"/>
<clipPath id="c5"><path d="M675.5,150.5 L704.4,194.5 L683.2,212.2 L654.8,170.3 C655.1,169.4 655.7,166.6 656.5,165.0 C657.3,163.4 658.2,162.0 659.5,160.5 C660.8,159.0 662.6,157.5 664.5,156.0 C666.4,154.5 669.2,152.4 671.0,151.5 C672.8,150.6 674.8,150.7 675.5,150.5 Z"/></clipPath>
<g clip-path="url(#c5)"><path d="M675.5,150.5 L704.4,194.5 L683.2,212.2 L654.8,170.3 C655.1,169.4 655.7,166.6 656.5,165.0 C657.3,163.4 658.2,162.0 659.5,160.5 C660.8,159.0 662.6,157.5 664.5,156.0 C666.4,154.5 669.2,152.4 671.0,151.5 C672.8,150.6 674.8,150.7 675.5,150.5 Z" fill="#fff"/><g><use href="#grid"/></g></g>
<path d="M675.5,150.5 L704.4,194.5 L683.2,212.2 L654.8,170.3 C655.1,169.4 655.7,166.6 656.5,165.0 C657.3,163.4 658.2,162.0 659.5,160.5 C660.8,159.0 662.6,157.5 664.5,156.0 C666.4,154.5 669.2,152.4 671.0,151.5 C672.8,150.6 674.8,150.7 675.5,150.5 Z" fill="none" stroke="#000" stroke-width="1.7" stroke-linejoin="round"/>
<path d="M676.0,147.5 C675.2,148.2 672.9,150.1 671.0,151.5 C669.1,152.9 666.4,154.5 664.5,156.0 C662.6,157.5 660.8,159.0 659.5,160.5 C658.2,162.0 657.3,163.4 656.5,165.0 C655.7,166.6 655.1,169.4 654.8,170.3" stroke="#000" stroke-width="2.6" fill="none" stroke-linecap="round"/>
<path d="M420.0,325.0 C418.3,328.0 413.3,337.2 410.0,343.0 C406.7,348.8 403.2,352.5 400.0,360.0 C396.8,367.5 394.0,379.3 391.0,388.0 C388.0,396.7 384.7,403.3 382.0,412.0 C379.3,420.7 377.2,430.0 375.0,440.0 C372.8,450.0 370.4,460.7 369.0,472.0 C367.6,483.3 366.8,495.7 366.5,508.0 C366.2,520.3 366.9,539.7 367.0,546.0" stroke="#f1efe8" stroke-width="2.7" fill="none" stroke-linecap="round"/>
<path d="M476.0,329.5 C474.2,332.2 468.9,339.5 465.5,346.0 C462.1,352.5 457.2,364.8 455.5,368.5" stroke="#f1efe8" stroke-width="2.7" fill="none" stroke-linecap="round"/>
<path d="M439.2,425.8 C439.4,427.8 439.1,433.6 440.2,437.5 C441.3,441.4 441.6,442.7 446.0,449.2 C450.4,455.7 460.6,468.6 466.4,476.4 C472.2,484.2 478.6,492.6 481.0,495.9" stroke="#f1efe8" stroke-width="2.7" fill="none" stroke-linecap="round"/>
<path d="M419.3,470.6 C420.7,472.9 424.2,479.0 427.5,484.2 C430.8,489.4 435.0,496.8 439.2,501.7 C443.4,506.6 448.3,509.8 452.8,513.4 C457.3,517.0 464.1,521.5 466.4,523.1" stroke="#f1efe8" stroke-width="2.7" fill="none" stroke-linecap="round"/>
<path d="M411.2,354.5 C411.7,352.4 412.2,346.9 414.4,341.7 C416.6,336.4 422.8,326.1 424.5,323.0" stroke="#e3161d" stroke-width="2.0" fill="none" stroke-linecap="butt" stroke-linejoin="round"/>
<path d="M426.3,356.3 L462.7,279.3" stroke="#52ad2d" stroke-width="2.0" fill="none" stroke-linecap="butt" stroke-linejoin="round"/>
<path d="M445.0,363.0 L471.5,304.0" stroke="#3a7cc9" stroke-width="2.0" fill="none" stroke-linecap="butt" stroke-linejoin="round"/>
<path d="M452.0,367.0 C453.7,363.2 458.7,350.9 462.2,344.4 C465.7,337.9 471.0,330.7 472.8,328.0" stroke="#e3161d" stroke-width="2.0" fill="none" stroke-linecap="butt" stroke-linejoin="round"/>
<path d="M423.6,438.5 C423.8,439.3 423.6,441.7 424.6,443.3 C425.6,444.9 427.1,445.9 429.5,448.2 C431.9,450.5 435.0,452.9 439.2,457.0 C443.4,461.1 449.2,467.1 454.7,472.5 C460.2,477.9 469.4,486.8 472.3,489.6" stroke="#e3161d" stroke-width="2.0" fill="none" stroke-linecap="butt" stroke-linejoin="round"/>
<path d="M422.0,440.4 C423.2,442.2 426.0,446.7 429.5,451.1 C433.0,455.5 437.8,461.2 443.0,466.7 C448.2,472.2 454.4,478.4 460.6,484.2 C466.8,490.0 473.6,496.2 480.0,501.7 C486.4,507.2 495.9,514.7 499.1,517.3" stroke="#52ad2d" stroke-width="2.0" fill="none" stroke-linecap="butt" stroke-linejoin="round"/>
<path d="M418.2,458.0 C418.8,459.1 420.1,462.4 421.7,464.7 C423.2,467.0 424.9,468.0 427.5,471.6 C430.1,475.2 434.3,481.7 437.2,486.1 C440.1,490.5 442.1,494.1 445.0,497.8 C447.9,501.5 450.9,505.1 454.7,508.5 C458.5,511.9 465.8,516.6 468.0,518.2" stroke="#e3161d" stroke-width="2.0" fill="none" stroke-linecap="butt" stroke-linejoin="round"/>
<path d="M369.5,524.4 C369.3,525.8 368.4,529.7 368.3,533.0 C368.2,536.3 369.1,542.2 369.2,544.0" stroke="#e3161d" stroke-width="2.0" fill="none" stroke-linecap="butt" stroke-linejoin="round"/>
<path d="M381.0,553.4 L394.0,562.2" stroke="#3a7cc9" stroke-width="2.0" fill="none" stroke-linecap="butt" stroke-linejoin="round"/>
<clipPath id="c6"><path d="M405.0,354.7 C409.0,355.4 421.1,357.3 429.0,359.0 C436.9,360.7 448.5,363.8 452.4,364.7 C451.6,368.9 449.4,382.6 447.6,389.8 C445.8,397.0 443.4,402.7 441.7,407.7 C440.0,412.7 439.0,416.7 437.7,419.7 C436.4,422.7 435.7,423.7 433.7,425.7 C431.7,427.7 427.7,429.3 425.7,431.6 C423.7,433.9 422.8,436.7 421.8,439.6 C420.8,442.5 420.3,446.0 419.7,449.2 C419.1,452.4 419.0,452.4 418.2,458.9 C417.4,465.4 415.8,479.6 414.9,488.1 C414.0,496.6 413.2,503.0 413.0,510.0 C412.8,517.0 413.2,523.4 413.6,530.0 C414.0,536.6 415.3,546.5 415.6,549.8 L372.4,552.6 C372.2,545.2 371.0,521.8 371.3,508.5 C371.6,495.2 372.8,484.3 374.1,473.1 C375.5,461.9 377.3,451.3 379.4,441.3 C381.5,431.3 383.9,422.4 386.5,413.0 C389.1,403.6 392.2,394.4 395.3,384.7 C398.4,375.0 403.4,359.7 405.0,354.7 Z"/></clipPath>
<g clip-path="url(#c6)"><path d="M405.0,354.7 C409.0,355.4 421.1,357.3 429.0,359.0 C436.9,360.7 448.5,363.8 452.4,364.7 C451.6,368.9 449.4,382.6 447.6,389.8 C445.8,397.0 443.4,402.7 441.7,407.7 C440.0,412.7 439.0,416.7 437.7,419.7 C436.4,422.7 435.7,423.7 433.7,425.7 C431.7,427.7 427.7,429.3 425.7,431.6 C423.7,433.9 422.8,436.7 421.8,439.6 C420.8,442.5 420.3,446.0 419.7,449.2 C419.1,452.4 419.0,452.4 418.2,458.9 C417.4,465.4 415.8,479.6 414.9,488.1 C414.0,496.6 413.2,503.0 413.0,510.0 C412.8,517.0 413.2,523.4 413.6,530.0 C414.0,536.6 415.3,546.5 415.6,549.8 L372.4,552.6 C372.2,545.2 371.0,521.8 371.3,508.5 C371.6,495.2 372.8,484.3 374.1,473.1 C375.5,461.9 377.3,451.3 379.4,441.3 C381.5,431.3 383.9,422.4 386.5,413.0 C389.1,403.6 392.2,394.4 395.3,384.7 C398.4,375.0 403.4,359.7 405.0,354.7 Z" fill="#fff"/><g><use href="#grid"/></g></g>
<path d="M405.0,354.7 C409.0,355.4 421.1,357.3 429.0,359.0 C436.9,360.7 448.5,363.8 452.4,364.7 C451.6,368.9 449.4,382.6 447.6,389.8 C445.8,397.0 443.4,402.7 441.7,407.7 C440.0,412.7 439.0,416.7 437.7,419.7 C436.4,422.7 435.7,423.7 433.7,425.7 C431.7,427.7 427.7,429.3 425.7,431.6 C423.7,433.9 422.8,436.7 421.8,439.6 C420.8,442.5 420.3,446.0 419.7,449.2 C419.1,452.4 419.0,452.4 418.2,458.9 C417.4,465.4 415.8,479.6 414.9,488.1 C414.0,496.6 413.2,503.0 413.0,510.0 C412.8,517.0 413.2,523.4 413.6,530.0 C414.0,536.6 415.3,546.5 415.6,549.8 L372.4,552.6 C372.2,545.2 371.0,521.8 371.3,508.5 C371.6,495.2 372.8,484.3 374.1,473.1 C375.5,461.9 377.3,451.3 379.4,441.3 C381.5,431.3 383.9,422.4 386.5,413.0 C389.1,403.6 392.2,394.4 395.3,384.7 C398.4,375.0 403.4,359.7 405.0,354.7 Z" fill="none" stroke="#000" stroke-width="1.7" stroke-linejoin="round"/>
<path d="M486.4,437.9 L579.0,437.9 L579.0,442.3 L486.4,442.3Z M595.8,440.1 L574.8,429.6 L581.8,440.1 L574.8,450.6Z" fill="#000"/>
<text x="534.5" y="401.9" font-size="20.6" text-anchor="middle">TAP</text>
<text x="534.7" y="475.1" font-size="20.6" text-anchor="middle">Culotte</text>
<path d="M660.7,320.8 C659.3,323.7 655.8,331.0 652.5,338.2 C649.2,345.4 644.7,353.7 641.0,364.0 C637.3,374.3 634.7,384.3 630.5,400.0 C626.3,415.7 619.6,435.0 616.0,458.0 C612.4,481.0 610.2,524.7 609.0,538.0" stroke="#f1efe8" stroke-width="2.7" fill="none" stroke-linecap="round"/>
<path d="M706.0,337.2 C704.5,340.3 699.4,350.3 697.2,355.8 C695.0,361.3 693.7,367.6 693.0,370.0" stroke="#f1efe8" stroke-width="2.7" fill="none" stroke-linecap="round"/>
<path d="M655.7,339.6 L663.9,322.2" stroke="#e3161d" stroke-width="2.0" fill="none" stroke-linecap="butt" stroke-linejoin="round"/>
<path d="M678.0,347.5 L698.5,298.7" stroke="#52ad2d" stroke-width="2.0" fill="none" stroke-linecap="butt" stroke-linejoin="round"/>
<path d="M686.7,350.7 L706.5,302.9" stroke="#3a7cc9" stroke-width="2.0" fill="none" stroke-linecap="butt" stroke-linejoin="round"/>
<path d="M694.0,354.4 L702.8,335.8" stroke="#e3161d" stroke-width="2.0" fill="none" stroke-linecap="butt" stroke-linejoin="round"/>
<path d="M711.2,494.0 L714.0,498.7" stroke="#e3161d" stroke-width="2.0" fill="none" stroke-linecap="butt" stroke-linejoin="round"/>
<path d="M692.2,509.5 L702.4,518.3" stroke="#e3161d" stroke-width="2.0" fill="none" stroke-linecap="butt" stroke-linejoin="round"/>
<path d="M698.0,507.5 L731.6,538.7" stroke="#52ad2d" stroke-width="2.0" fill="none" stroke-linecap="butt" stroke-linejoin="round"/>
<path d="M614.0,540.0 L614.8,546.0" stroke="#e3161d" stroke-width="2.0" fill="none" stroke-linecap="butt" stroke-linejoin="round"/>
<path d="M649.9,539.6 L649.9,545.6" stroke="#e3161d" stroke-width="2.0" fill="none" stroke-linecap="butt" stroke-linejoin="round"/>
<path d="M619.2,539.6 C619.7,541.6 619.1,547.9 622.0,551.9 C624.9,555.9 634.2,561.6 636.7,563.5" stroke="#3a7cc9" stroke-width="2.0" fill="none" stroke-linecap="butt" stroke-linejoin="round"/>
<clipPath id="c7"><path d="M655.0,340.8 C658.3,341.8 668.2,344.1 675.0,346.5 C681.8,348.9 692.5,353.6 696.0,355.0 C694.5,359.2 689.3,373.4 687.0,380.0 C684.7,386.6 683.5,390.1 682.1,394.9 C680.7,399.6 679.1,405.4 678.4,408.5 C677.7,411.6 678.3,410.7 677.8,413.6 C677.3,416.5 675.8,422.7 675.4,426.0 C675.0,429.3 675.1,430.9 675.4,433.4 C675.7,435.9 676.7,438.3 677.2,440.8 C677.7,443.3 677.5,446.0 678.5,448.3 C679.5,450.6 680.9,451.0 683.4,454.5 C685.9,458.0 690.2,465.0 693.3,469.3 C696.4,473.6 699.1,476.8 702.0,480.3 C704.9,483.8 709.2,488.6 710.6,490.2 C709.8,491.6 709.3,495.4 705.6,498.9 C701.9,502.4 691.2,509.2 688.3,511.3 C685.2,506.8 675.2,492.4 669.7,484.0 C664.2,475.6 658.0,464.5 655.6,460.6 C655.1,464.5 653.4,471.2 652.4,484.0 C651.4,496.8 650.3,528.4 649.9,537.3 L611.9,537.8 C612.0,531.5 611.3,513.2 612.5,500.0 C613.7,486.8 615.7,475.1 619.2,458.4 C622.8,441.7 629.6,415.7 633.8,400.0 C638.0,384.3 641.0,374.2 644.5,364.3 C648.0,354.4 653.2,344.7 655.0,340.8 Z"/></clipPath>
<g clip-path="url(#c7)"><path d="M655.0,340.8 C658.3,341.8 668.2,344.1 675.0,346.5 C681.8,348.9 692.5,353.6 696.0,355.0 C694.5,359.2 689.3,373.4 687.0,380.0 C684.7,386.6 683.5,390.1 682.1,394.9 C680.7,399.6 679.1,405.4 678.4,408.5 C677.7,411.6 678.3,410.7 677.8,413.6 C677.3,416.5 675.8,422.7 675.4,426.0 C675.0,429.3 675.1,430.9 675.4,433.4 C675.7,435.9 676.7,438.3 677.2,440.8 C677.7,443.3 677.5,446.0 678.5,448.3 C679.5,450.6 680.9,451.0 683.4,454.5 C685.9,458.0 690.2,465.0 693.3,469.3 C696.4,473.6 699.1,476.8 702.0,480.3 C704.9,483.8 709.2,488.6 710.6,490.2 C709.8,491.6 709.3,495.4 705.6,498.9 C701.9,502.4 691.2,509.2 688.3,511.3 C685.2,506.8 675.2,492.4 669.7,484.0 C664.2,475.6 658.0,464.5 655.6,460.6 C655.1,464.5 653.4,471.2 652.4,484.0 C651.4,496.8 650.3,528.4 649.9,537.3 L611.9,537.8 C612.0,531.5 611.3,513.2 612.5,500.0 C613.7,486.8 615.7,475.1 619.2,458.4 C622.8,441.7 629.6,415.7 633.8,400.0 C638.0,384.3 641.0,374.2 644.5,364.3 C648.0,354.4 653.2,344.7 655.0,340.8 Z" fill="#fff"/><g><use href="#grid"/></g></g>
<path d="M655.0,340.8 C658.3,341.8 668.2,344.1 675.0,346.5 C681.8,348.9 692.5,353.6 696.0,355.0 C694.5,359.2 689.3,373.4 687.0,380.0 C684.7,386.6 683.5,390.1 682.1,394.9 C680.7,399.6 679.1,405.4 678.4,408.5 C677.7,411.6 678.3,410.7 677.8,413.6 C677.3,416.5 675.8,422.7 675.4,426.0 C675.0,429.3 675.1,430.9 675.4,433.4 C675.7,435.9 676.7,438.3 677.2,440.8 C677.7,443.3 677.5,446.0 678.5,448.3 C679.5,450.6 680.9,451.0 683.4,454.5 C685.9,458.0 690.2,465.0 693.3,469.3 C696.4,473.6 699.1,476.8 702.0,480.3 C704.9,483.8 709.2,488.6 710.6,490.2 C709.8,491.6 709.3,495.4 705.6,498.9 C701.9,502.4 691.2,509.2 688.3,511.3 C685.2,506.8 675.2,492.4 669.7,484.0 C664.2,475.6 658.0,464.5 655.6,460.6 C655.1,464.5 653.4,471.2 652.4,484.0 C651.4,496.8 650.3,528.4 649.9,537.3 L611.9,537.8 C612.0,531.5 611.3,513.2 612.5,500.0 C613.7,486.8 615.7,475.1 619.2,458.4 C622.8,441.7 629.6,415.7 633.8,400.0 C638.0,384.3 641.0,374.2 644.5,364.3 C648.0,354.4 653.2,344.7 655.0,340.8 Z" fill="none" stroke="#000" stroke-width="1.7" stroke-linejoin="round"/>
<path d="M677.8,413.6 C676.9,414.4 674.3,417.1 672.3,418.6 C670.3,420.2 667.8,421.0 666.0,422.9 C664.2,424.8 663.0,426.9 661.8,429.7 C660.6,432.5 659.5,435.9 658.7,439.6 C657.9,443.3 657.3,448.5 656.8,452.0 C656.3,455.5 655.8,459.2 655.6,460.6" stroke="#000" stroke-width="1.8" fill="none" stroke-linecap="round"/>
<rect x="0.5" y="0.5" width="733" height="564" fill="none" stroke="#8e8e8e" stroke-width="1"/>
</svg>
</body></html>
